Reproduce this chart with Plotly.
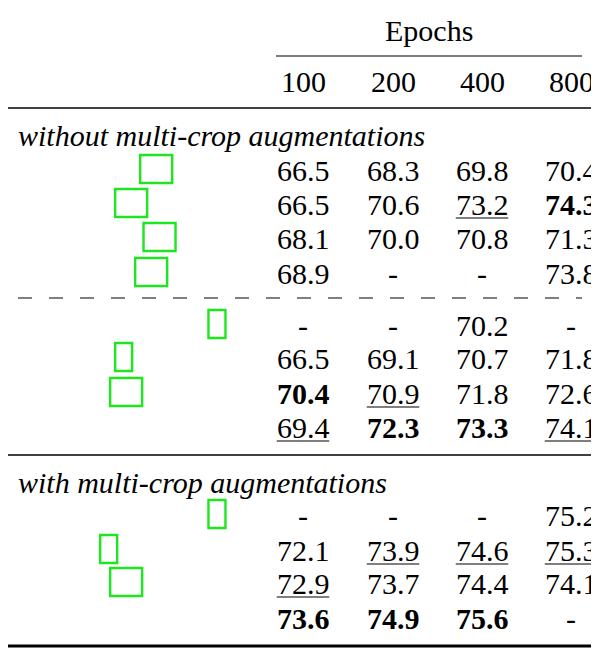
import plotly.graph_objects as go

epochs = ["100", "200", "400", "800"]
group1_title = "without multi-crop augmentations"
group1_methods = ["SimCLR†", "BYOL†", "SimSiam†", "MoCo-v3", "DeepCluster-v2", "SwAV†", "TWIST", "MIRA"]
group1_refs = ["10", "28", "30", "14", "8", "8", "26", None]
group1_vals = [
    ["66.5", "68.3", "69.8", "70.4"],
    ["66.5", "70.6", "73.2", "74.3"],
    ["68.1", "70.0", "70.8", "71.3"],
    ["68.9", "-", "-", "73.8"],
    ["-", "-", "70.2", "-"],
    ["66.5", "69.1", "70.7", "71.8"],
    ["70.4", "70.9", "71.8", "72.6"],
    ["69.4", "72.3", "73.3", "74.1"],
]
# style: 'b' bold, 'u' underline, '' plain
group1_style = [
    ["", "", "", ""],
    ["", "", "u", "b"],
    ["", "", "", ""],
    ["", "", "", ""],
    ["", "", "", ""],
    ["", "", "", ""],
    ["b", "u", "", ""],
    ["u", "b", "b", "u"],
]
group2_title = "with multi-crop augmentations"
group2_methods = ["DeepCluster-v2", "SwAV", "TWIST", "MIRA"]
group2_refs = ["8", "8", "26", None]
group2_vals = [
    ["-", "-", "-", "75.2"],
    ["72.1", "73.9", "74.6", "75.3"],
    ["72.9", "73.7", "74.4", "74.1"],
    ["73.6", "74.9", "75.6", "-"],
]
group2_style = [
    ["", "", "", ""],
    ["", "u", "u", "u"],
    ["u", "", "", ""],
    ["b", "b", "b", ""],
]

FS = 30
FONT = "Liberation Serif"
W = {'S': .556, 'i': .278, 'm': .778, 'C': .667, 'L': .611, 'R': .667, '†': .5, ' ': .25,
     '[': .333, ']': .333, 'B': .667, 'Y': .722, 'O': .722, 'a': .444, 'M': .889, 'o': .5,
     '-': .333, 'v': .5, 'D': .722, 'e': .444, 'p': .5, 'l': .278, 'u': .5, 's': .389,
     't': .278, 'r': .333, 'w': .722, 'A': .722, 'V': .722, 'T': .611, 'W': .944, 'I': .333, '.': .25}
def tw(s):
    return sum(W.get(c, .5) for c in s) * FS

col_x = [303, 393, 482, 571]
shapes, ann = [], []
def text(x, y, s, anchor="left", **kw):
    ann.append(dict(x=x, y=y, text=s, xanchor=anchor, yanchor="middle", showarrow=False,
                    font=dict(family=FONT, size=FS, color="black"), **kw))
def line(x0, y0, x1, y1, w, dash="solid"):
    shapes.append(dict(type="line", x0=x0, y0=y0, x1=x1, y1=y1,
                       line=dict(color="black", width=w, dash=dash)))

line(0, 3, 599, 3, 3)
text(429, 30, "Epochs", "center")
line(276, 56, 582, 56, 1.2)
text(2, 81, "Method")
for i, e in enumerate(epochs):
    text(col_x[i], 81, e, "center")
line(0, 108, 599, 108, 1.6)

def rows(title, ty, methods, refs, vals, styles, y0):
    text(16, ty, "<i>" + title + "</i>")
    for r, (m, ref, v, st) in enumerate(zip(methods, refs, vals, styles)):
        y = y0[r]
        if ref:
            pre = m + " ["
            text(2, y, pre + ref + "]")
            bx0 = 2 + tw(pre)
            bx1 = bx0 + tw(ref)
            shapes.append(dict(type="rect", x0=bx0 - 1, x1=bx1 + 1, y0=y - 15, y1=y + 13,
                               line=dict(color="#1ee61e", width=2.4)))
        else:
            text(2, y, m)
        for c in range(4):
            t = v[c]
            if st[c] == "b":
                t = "<b>" + t + "</b>"
            text(col_x[c], y, t, "center")
            if st[c] == "u":
                hw = tw(v[c]) / 2
                line(col_x[c] - hw, y + 14, col_x[c] + hw, y + 14, 1.2)

ys1 = [170, 204, 238, 273, 325, 358, 393, 427]
rows(group1_title, 135, group1_methods, group1_refs, group1_vals, group1_style, ys1)
line(18, 298, 582, 298, 1.2, "14px,17px")
line(0, 455, 599, 455, 1.6)
ys2 = [515, 550, 583, 618]
rows(group2_title, 482, group2_methods, group2_refs, group2_vals, group2_style, ys2)
line(0, 646, 599, 646, 3)

# the page body has an 8px margin; shift the coordinate window to compensate
OFF = 8
fig = go.Figure()
fig.update_layout(width=599, height=648, margin=dict(l=0, r=0, t=0, b=0),
                  paper_bgcolor="white", plot_bgcolor="white",
                  xaxis=dict(range=[OFF, 599 + OFF], visible=False, fixedrange=True),
                  yaxis=dict(range=[648 + OFF, OFF], visible=False, fixedrange=True),
                  shapes=shapes, annotations=ann, showlegend=False)
fig.write_html("out.html")
